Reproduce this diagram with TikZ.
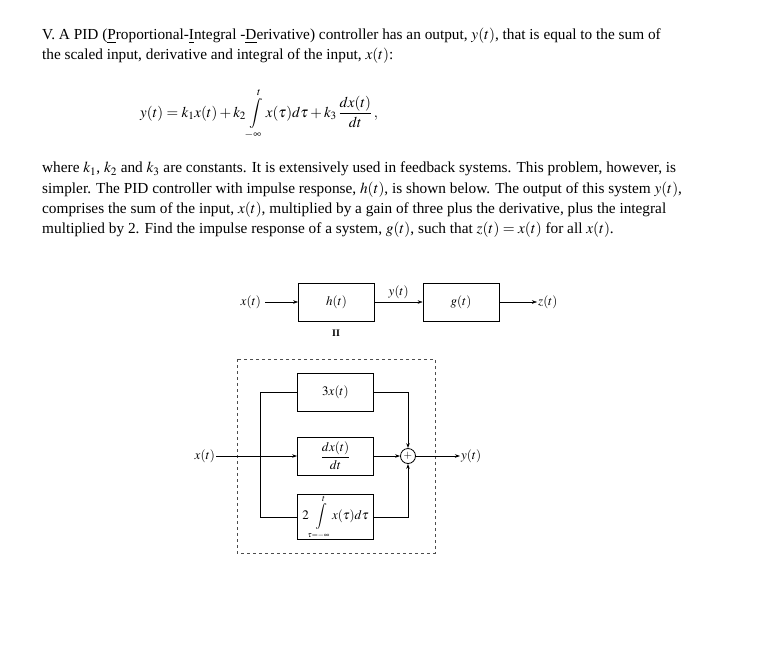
\documentclass[tikz,border=0pt]{standalone}
\usepackage{amsmath}
\usepackage{mathptmx}
\usepackage[no-math]{fontspec}
\setmainfont{Liberation Serif}
\usetikzlibrary{arrows.meta}
\begin{document}
\begin{tikzpicture}[x=1pt,y=-1pt,
  blk/.style={draw,thick,minimum width=76pt,minimum height=38pt,inner sep=0pt,font=\fontsize{13}{14}\selectfont},
  lbl/.style={font=\fontsize{13}{14}\selectfont,inner sep=1pt},
  arr/.style={-{Stealth[length=5pt,width=3.5pt]}},
  txt/.style={anchor=north west,inner sep=0pt,align=flush left,text width=680pt,font=\fontsize{15.3}{20.3}\selectfont}]
\useasboundingbox (0,0) rectangle (760,654);
\fill[white] (0,0) rectangle (760,654);
\node[txt] (p1) at (42,28) {V. A PID (\underline{P}roportional-\underline{I}ntegral -\underline{D}erivative) controller has an output, $y(t)$, that is equal to the sum of\\ the scaled input, derivative and integral of the input, $x(t)$:};
\node[anchor=west,inner sep=0pt,font=\fontsize{15}{17}\selectfont] (eq) at (140,114) {$y(t)=k_1x(t)+k_2\displaystyle\int\limits_{-\infty}^{t}x(\tau)d\tau+k_3\,\dfrac{dx(t)}{dt}\,,$};
\node[txt] (p2) at (42,162) {where $k_1$, $k_2$ and $k_3$ are constants. It is extensively used in feedback systems. This problem, however, is\\ simpler. The PID controller with impulse response, $h(t)$, is shown below. The output of this system $y(t)$,\\ comprises the sum of the input, $x(t)$, multiplied by a gain of three plus the derivative, plus the integral\\ multiplied by 2. Find the impulse response of a system, $g(t)$, such that $z(t)=x(t)$ for all $x(t)$.};
% top chain
\node[blk] (h) at (336.5,302) {$h(t)$};
\node[blk] (g) at (461,302) {$g(t)$};
\node[lbl,anchor=east] (xin) at (262,302) {$x(t)$};
\node[lbl,anchor=west] (zout) at (537,302) {$z(t)$};
\draw[arr] (xin.east)++(3,0) -- (h.west);
\draw[arr] (h.east) -- node[lbl,above=2pt] {$y(t)$} (g.west);
\draw[arr] (g.east) -- (zout.west);
\node[font=\bfseries\fontsize{10}{10}\selectfont] (eqv) at (336,333) {II};
% lower
\draw[dashed,thick,gray!60!black] (237,359) rectangle (435,553);
\node[blk] (a) at (335.5,392) {$3x(t)$};
\node[blk] (b) at (335.5,456) {$\dfrac{dx(t)}{dt}$};
\node[blk,minimum height=42pt] (c) at (335.5,517) {$2\displaystyle\int\limits_{\scriptscriptstyle\tau=-\infty}^{t}\!x(\tau)d\tau$};
\node[draw,thick,circle,minimum size=15pt,inner sep=0pt,font=\fontsize{11}{11}\selectfont] (s) at (408,456) {$+$};
\node[lbl,anchor=east] (x2) at (216,456) {$x(t)$};
\node[lbl,anchor=west] (y2) at (460,456) {$y(t)$};
\coordinate (j) at (260,456);
\draw[thick] (x2.east) -- (j);
\draw[thick] (a.west) -- (260,392) -- (260,517) -- (c.west);
\draw[thick,arr] (j) -- (b.west);
\draw[thick,arr] (b.east) -- (s.west);
\draw[thick,arr] (a.east) -| (s.north);
\draw[thick,arr] (c.east) -| (s.south);
\draw[thick,arr] (s.east) -- (y2.west);
\end{tikzpicture}
\end{document}
